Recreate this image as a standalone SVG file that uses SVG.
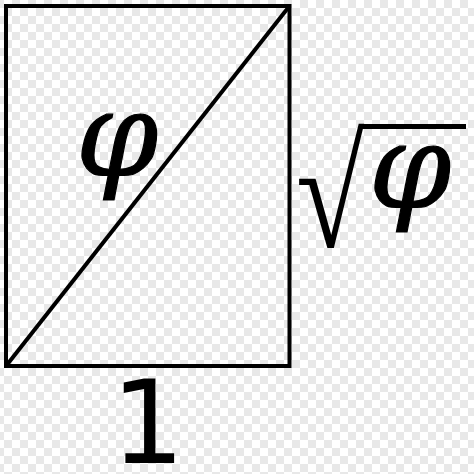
<svg xmlns="http://www.w3.org/2000/svg" width="474" height="474" viewBox="0 0 474 474">
  <defs>
    <pattern id="checker" x="4" y="0" width="16" height="16" patternUnits="userSpaceOnUse">
      <rect x="0" y="0" width="16" height="16" fill="#ffffff"/>
      <rect x="8" y="0" width="8" height="8" fill="#e8e8e8"/>
      <rect x="0" y="8" width="8" height="8" fill="#e8e8e8"/>
    </pattern>
  </defs>
  <style>
    .ln { stroke: #000; stroke-width: 4; fill: none; }
    .phi { font-family: "DejaVu Serif", serif; font-style: italic; font-size: 118px; fill: #000; stroke: #000; stroke-width: 1.2; text-anchor: middle; }
    .num { font-family: "DejaVu Sans", sans-serif; font-size: 116px; fill: #000; text-anchor: middle; }
    .rad { font-family: "Liberation Serif", serif; font-size: 150px; fill: #000; }
  </style>
  <rect width="474" height="474" fill="url(#checker)"/>
  <g id="rectangle">
    <rect class="ln" x="6" y="6" width="283.5" height="360"/>
  </g>
  <g id="connectors">
    <line class="ln" x1="6" y1="366" x2="289.5" y2="6"/>
  </g>
  <g id="label-diagonal">
    <text class="phi" x="117" y="175">φ</text>
  </g>
  <g id="label-width">
    <text class="num" x="148" y="463">1</text>
  </g>
  <g id="label-height">
    <text class="rad" transform="translate(296,247) scale(0.83,1.04)" x="0" y="0">√</text>
    <line x1="361" y1="126.5" x2="466" y2="126.5" stroke="#000" stroke-width="5"/>
    <text class="phi" x="410" y="207">φ</text>
  </g>
</svg>
